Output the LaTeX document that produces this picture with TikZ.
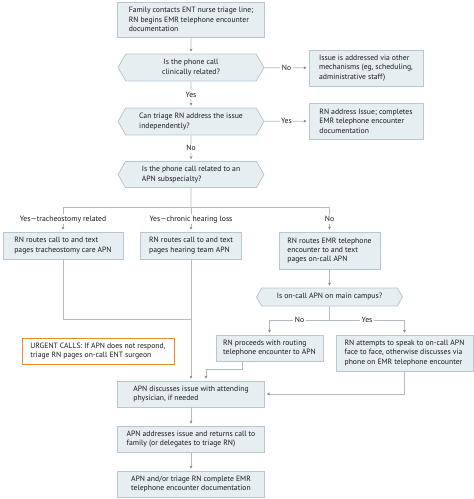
\documentclass[tikz,border=0pt]{standalone}
\usepackage{fontspec}
\setmainfont{PT Sans}
\usetikzlibrary{shapes.symbols,arrows.meta}
\definecolor{boxfill}{HTML}{E7EEF2}
\definecolor{boxline}{HTML}{BAC6CE}
\definecolor{wire}{HTML}{B3BBC1}
\definecolor{tipgray}{HTML}{7F8A92}
\definecolor{urgent}{HTML}{E98A2C}
\definecolor{ink}{HTML}{1A1A1A}
\newcommand{\txt}{\fontsize{7.7}{9.4}\selectfont}

\begin{document}
\begin{tikzpicture}[x=1bp, y=-1bp,
	box/.style={rectangle, fill=boxfill, draw=boxline, line width=0.8pt, align=left, inner sep=0pt, minimum height=26bp, font=\txt, text=ink},
	ask/.style={signal, signal to=east and west, signal pointer angle=120, fill=boxfill, draw=boxline, line width=0.8pt, inner sep=0pt, minimum width=146bp, minimum height=27bp, font=\txt, text=ink},
	lbl/.style={fill=white, inner sep=1.5pt, font=\txt, text=ink},
	link/.style={draw=wire, line width=0.8pt},
	arr/.style={link, -{Stealth[length=3pt,width=3pt,color=tipgray]}, shorten >=2pt}]
		\useasboundingbox (0,0) rectangle (474,499);
		
		%main column
		\node[box, minimum width=147bp, minimum height=35bp] (call) at (191,19.5){Family contacts ENT nurse triage line;\\RN begins EMR telephone encounter\\documentation};
		\node[ask, align=center] (clinical) at (191,67.5){Is the phone call\\clinically related?};
		\node[ask, align=left] (alone) at (191,121.5){Can triage RN address the issue\\independently?};
		\node[ask, align=left, minimum height=26bp] (subspec) at (191,174.5){Is the phone call related to an\\APN subspecialty?};
		
		%side boxes
		\node[box, minimum width=114bp, minimum height=36bp] (other) at (366,68){Issue is addressed via other\\mechanisms (eg, scheduling,\\administrative staff)};
		\node[box, minimum width=114bp, minimum height=36bp] (solved) at (366,121){RN address Issue; completes\\EMR telephone encounter\\documentation};
		
		%routing
		\node[box, minimum width=120bp, minimum height=27bp] (trach) at (63,245.5){RN routes call to and text\\pages tracheostomy care APN};
		\node[box, minimum width=101bp, minimum height=27bp] (hear) at (191,245.5){RN routes call to and text\\pages hearing team APN};
		\node[box, minimum width=101bp, minimum height=37bp] (oncall) at (329.5,250.5){RN routes EMR telephone\\encounter to and text\\pages on-call APN};
		\node[ask, minimum height=18bp] (campus) at (329.5,297){Is on-call APN on main campus?};
		\node[box, minimum width=107bp] (proceed) at (269.5,348){RN proceeds with routing\\telephone encounter to APN};
		\node[box, minimum width=137bp, minimum height=36bp] (attempt) at (404.5,353){RN attempts to speak to on-call APN\\face to face, otherwise discusses via\\phone on EMR telephone encounter};
		\node[box, fill=white, draw=urgent, line width=1pt, minimum width=152bp] (urgentcall) at (98,351){URGENT CALLS: If APN does not respond,\\triage RN pages on-call ENT surgeon};
		
		%closing steps
		\node[box, minimum width=147bp] (discuss) at (191,394){APN discusses issue with attending\\physician, if needed};
		\node[box, minimum width=147bp] (returns) at (191,439){APN addresses issue and returns call to\\family (or delegates to triage RN)};
		\node[box, minimum width=147bp] (complete) at (191,484){APN and/or triage RN complete EMR\\telephone encounter documentation};
		
		\coordinate (fork) at (191,207);
		\coordinate (join) at (191,319);
		\coordinate (split) at (329.5,320);
		
		\draw[arr] (call) -- (clinical);
		\draw[arr] (clinical) -- node[lbl]{No} (other);
		\draw[arr] (clinical) -- node[lbl]{Yes} (alone);
		\draw[arr] (alone) -- node[lbl]{Yes} (solved);
		\draw[arr] (alone) -- node[lbl]{No} (subspec);
		
		\draw[link] (subspec) -- (fork);
		\draw[arr] (fork) -| node[lbl, pos=0.75]{Yes\textemdash tracheostomy related} (trach);
		\draw[arr] (fork) -- node[lbl]{Yes\textemdash chronic hearing loss} (hear);
		\draw[arr] (fork) -| node[lbl, pos=0.75]{No} (oncall);
		
		\draw[link] (trach) |- (join);
		\draw[arr] (hear) -- (discuss);
		\draw[arr] (oncall) -- (campus);
		\draw[link] (campus) -- (split);
		\draw[arr] (split) -| node[lbl, pos=0.25]{No} (proceed);
		\draw[arr] (split) -| node[lbl, pos=0.25]{Yes} (attempt);
		\draw[arr] ([xshift=-27.5bp]proceed.south) -- ++(0,8) -| ([xshift=15bp]discuss.north);
		\draw[arr] (attempt) |- (discuss);
		
		\draw[arr] (discuss) -- (returns);
		\draw[arr] (returns) -- (complete);
\end{tikzpicture}
\end{document}
